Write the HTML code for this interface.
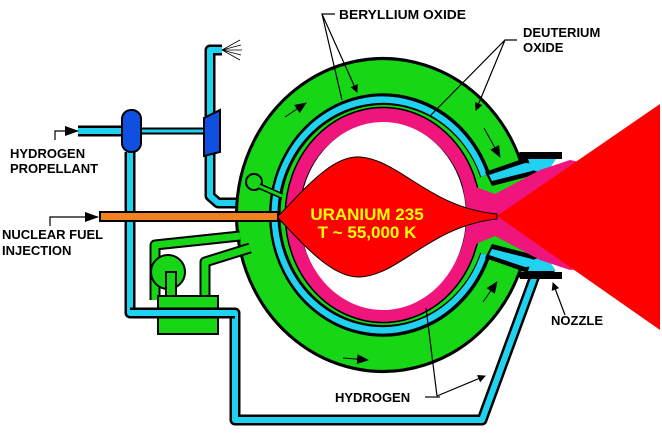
<!DOCTYPE html>
<html><head><style>
body{margin:0;background:#fff}
svg{display:block}
text{font-family:"Liberation Sans",Arial,sans-serif;font-weight:bold;font-size:13px;fill:#000}
</style></head><body>
<svg width="662" height="436" viewBox="0 0 662 436" xmlns="http://www.w3.org/2000/svg">
<defs>
<marker id="ah" markerWidth="8" markerHeight="8" refX="7" refY="4" orient="auto" markerUnits="userSpaceOnUse"><path d="M0,0 L8,4 L0,8 Z" fill="#000"/></marker>
<marker id="ab" markerWidth="14" markerHeight="10" refX="13" refY="5" orient="auto" markerUnits="userSpaceOnUse"><path d="M0,0 L14,5 L0,10 Z" fill="#000"/></marker>
<marker id="af" markerWidth="12" markerHeight="10" refX="11" refY="5" orient="auto" markerUnits="userSpaceOnUse"><path d="M0,0 L12,5 L0,10 Z" fill="#000"/></marker>
</defs>

<g fill="none" stroke-linejoin="round">
<path d="M130,152 V313 H235 V420 H482 L540,262" stroke="#000" stroke-width="11"/>
<path d="M130,152 V313 H235 V420 H482 L540,262" stroke="#1ed2f0" stroke-width="6"/>
<path d="M78,131 H125" stroke="#000" stroke-width="11"/>
<path d="M78,131 H125" stroke="#1ed2f0" stroke-width="6"/>
<path d="M140,131 H206" stroke="#000" stroke-width="7"/>
<path d="M140,131 H206" stroke="#1ed2f0" stroke-width="3"/>
<path d="M222,50 H210 V196 L218,203 H272" stroke="#000" stroke-width="11"/>
<path d="M222,50 H210 V196 L218,203 H272" stroke="#1ed2f0" stroke-width="6"/>
</g>
<g stroke="#000" stroke-width="0.8"><path d="M222,50 L240,40 M222,50 L241,45 M222,50 L242,50 M222,50 L241,55 M222,50 L240,60"/></g>
<rect x="122" y="110" width="19" height="42" rx="9" fill="#1050e0" stroke="#000" stroke-width="2"/>
<polygon points="204,118 220,110 220,152 204,156" fill="#1050e0" stroke="#000" stroke-width="2"/>

<!-- band bends toward nozzle -->
<polygon points="470,160 522,152 555,158 505,204 470,200" fill="#000"/>
<polygon points="474,166 520,157 546,162 503,198 474,195" fill="#16d616"/>
<polygon points="470,270 522,278 555,272 505,226 470,230" fill="#000"/>
<polygon points="474,264 520,273 546,268 503,232 474,235" fill="#16d616"/>

<g transform="translate(383,215) scale(1,1.068)" fill="none">
<path d="M115.1,-41.9 A122.5,122.5 0 1 0 115.1,41.9" stroke="#000" stroke-width="51"/>
<path d="M121.7,-44.3 A129.5,129.5 0 1 0 121.7,44.3" stroke="#16d616" stroke-width="31"/>
<path d="M101,-36.8 A108,108 0 1 0 101,36.8" stroke="#1ed2f0" stroke-width="6"/>
<path d="M94.9,-34.5 A100.5,100.5 0 1 0 94.9,34.5" stroke="#16d616" stroke-width="5"/>
</g>
<polygon points="485,172 525,158 550,160 538,174 492,186" fill="#000"/>
<polygon points="489,175 525,163 542,164 532,171 492,181" fill="#1ed2f0"/>
<polygon points="485,258 525,272 550,270 538,256 492,244" fill="#000"/>
<polygon points="489,255 525,267 542,266 532,259 492,249" fill="#1ed2f0"/>
<rect x="520" y="152" width="42" height="7" fill="#000"/>
<rect x="520" y="272" width="42" height="7" fill="#000"/>
<polygon points="528,159 556,159 546,174 532,170" fill="#1ed2f0"/>
<polygon points="528,271 556,271 546,256 532,260" fill="#1ed2f0"/>

<g transform="translate(383,215) scale(1,1.1)">
<circle r="90.5" fill="none" stroke="#000" stroke-width="16"/>
<circle r="90.5" fill="none" stroke="#f0157d" stroke-width="13"/>
</g>
<ellipse cx="383" cy="216" rx="83" ry="94" fill="#fff"/>
<polygon points="462,182 495,194 540,170 570,160 600,166 600,266 570,270 540,260 495,236 462,250 468,216" fill="#f0157d"/>
<polygon points="497,216 660,104 660,330" fill="#ff0000"/>
<path d="M277,217 C300,195 330,155 360,157 C400,160 430,208 497,214 L497,219 C430,226 400,275 360,277 C330,278 300,240 277,217 Z" fill="#ff0000" stroke="#000" stroke-width="1"/>
<text x="367" y="220" text-anchor="middle" style="fill:#ffff00;font-size:17px">URANIUM 235</text>
<text x="367" y="238" text-anchor="middle" style="fill:#ffff00;font-size:17px">T ~ 55,000 K</text>

<g stroke-linejoin="round" fill="none">
<path d="M155,300 V245 L240,236 M205,300 V262 L250,248" stroke="#000" stroke-width="11"/>
<path d="M155,300 V245 L240,236 M205,300 V262 L250,248" stroke="#16d616" stroke-width="7"/>
</g>
<circle cx="168" cy="272" r="17" fill="#16d616" stroke="#000" stroke-width="2"/>
<rect x="158" y="296" width="60" height="38" fill="#16d616" stroke="#000" stroke-width="2"/>
<rect x="166" y="272" width="10" height="24" fill="#16d616" stroke="#000" stroke-width="2"/>
<path d="M130,313 H235" stroke="#000" stroke-width="11"/>
<path d="M130,313 H235" stroke="#1ed2f0" stroke-width="6"/>
<circle cx="254" cy="182" r="8" fill="#16d616" stroke="#000" stroke-width="2"/>
<path d="M259,186 L282,196" stroke="#000" stroke-width="6"/>
<path d="M259,186 L282,196" stroke="#16d616" stroke-width="3"/>
<rect x="100" y="212" width="178" height="9" fill="#f08020" stroke="#000" stroke-width="2"/>

<g stroke="#000" stroke-width="1" fill="none">
<path d="M285,117 L306,103" marker-end="url(#af)"/>
<path d="M343,358 L368,360" marker-end="url(#af)"/>
<path d="M484,128 L500,157" marker-end="url(#af)"/>
<path d="M483,302 L497,282" marker-end="url(#af)"/>
</g>
<g stroke="#000" stroke-width="1.2" fill="none">
<path d="M55,140 V131 H78" marker-end="url(#ab)"/>
<path d="M50,226 V217 H98" marker-end="url(#ab)"/>
<path d="M335,14 H322 L342,100 M322,14 L357,92" marker-end="url(#ah)"/>
<path d="M517,40 H505 L430,116 M505,40 L476,110" marker-end="url(#ah)"/>
<path d="M437,396 L426,308 M437,396 L485,376" marker-end="url(#ah)"/>
<path d="M565,315 L553,283" marker-end="url(#ah)"/>
<path d="M425,397 H440"/>
</g>
<text x="10" y="158">HYDROGEN</text>
<text x="10" y="173">PROPELLANT</text>
<text x="2" y="239">NUCLEAR FUEL</text>
<text x="2" y="255">INJECTION</text>
<text x="339" y="19" textLength="127" lengthAdjust="spacingAndGlyphs">BERYLLIUM OXIDE</text>
<text x="523" y="37">DEUTERIUM</text>
<text x="523" y="52">OXIDE</text>
<text x="551" y="325">NOZZLE</text>
<text x="335" y="402">HYDROGEN</text>
</svg>
</body></html>
